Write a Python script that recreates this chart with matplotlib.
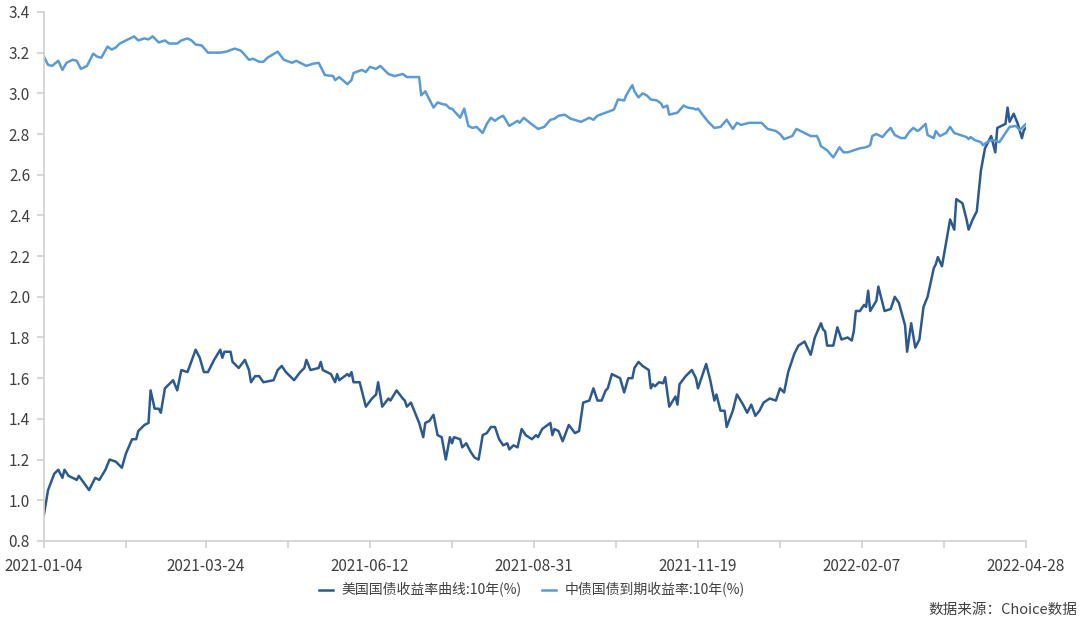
'''
US 10Y treasury yield vs China 10Y government bond yield, 2021-01-04 to 2022-04-28
'''

import numpy as np
import pandas as pd
import matplotlib
matplotlib.use('Agg')
import matplotlib.pyplot as plt
import matplotlib.dates as mdates
from matplotlib.ticker import FormatStrFormatter

plt.rcParams['font.family'] = ['Noto Sans CJK SC', 'DejaVu Sans']

### data, x = days since 2021-01-04
start = pd.Timestamp('2021-01-04')

us_day = [0, 2, 5, 7, 9, 10, 12, 16, 17, 22, 25, 27, 30, 32, 35, 38, 40, 43, 45, 46,
          49, 51, 52, 54, 56, 57, 59, 63, 65, 67, 70, 74, 76, 78, 80, 83, 86, 87, 88, 91,
          92, 94, 95, 98, 100, 101, 103, 105, 107, 112, 114, 116, 118, 122, 125, 127, 128, 130, 134, 135,
          136, 140, 142, 143, 144, 148, 149, 150, 151, 154, 155, 157, 160, 162, 163, 165, 168, 169, 172, 175,
          176, 177, 179, 181, 183, 185, 186, 188, 190, 192, 194, 196, 198, 199, 200, 203, 204, 206, 208, 210,
          212, 214, 216, 218, 220, 222, 224, 226, 227, 229, 231, 233, 235, 238, 240, 241, 243, 247, 248, 249,
          251, 253, 256, 259, 261, 263, 266, 268, 270, 272, 274, 275, 277, 281, 283, 285, 287, 288, 290, 292,
          295, 296, 297, 298, 300, 302, 303, 305, 308, 309, 310, 313, 316, 318, 319, 323, 325, 327, 328, 330,
          332, 333, 336, 338, 341, 343, 345, 347, 349, 351, 354, 357, 359, 361, 363, 366, 368, 371, 374, 376,
          379, 380, 381, 382, 385, 387, 389, 392, 394, 395, 396, 398, 400, 401, 402, 403, 406, 407, 410, 413,
          415, 417, 420, 421, 423, 425, 427, 429, 431, 434, 435, 436, 438, 442, 444, 445, 448, 450, 451, 453,
          455, 457, 459, 462, 463, 464, 465, 468, 469, 470, 471, 473, 475, 477, 478, 479]
us_10y = [0.93, 1.05, 1.13, 1.15, 1.11, 1.15, 1.12, 1.10, 1.12, 1.05, 1.11, 1.10, 1.15, 1.20, 1.19, 1.16, 1.23, 1.30, 1.30, 1.34,
          1.37, 1.38, 1.54, 1.45, 1.45, 1.43, 1.55, 1.59, 1.54, 1.64, 1.63, 1.74, 1.70, 1.63, 1.63, 1.69, 1.74, 1.70, 1.73, 1.73,
          1.68, 1.66, 1.65, 1.69, 1.64, 1.58, 1.61, 1.61, 1.58, 1.59, 1.64, 1.66, 1.63, 1.59, 1.63, 1.65, 1.69, 1.64, 1.65, 1.68,
          1.64, 1.62, 1.58, 1.62, 1.59, 1.62, 1.61, 1.63, 1.58, 1.58, 1.54, 1.46, 1.50, 1.52, 1.58, 1.46, 1.50, 1.49, 1.54, 1.50,
          1.49, 1.46, 1.48, 1.43, 1.38, 1.31, 1.38, 1.39, 1.42, 1.32, 1.31, 1.20, 1.31, 1.28, 1.31, 1.30, 1.26, 1.28, 1.24, 1.21,
          1.20, 1.32, 1.33, 1.36, 1.36, 1.30, 1.27, 1.28, 1.25, 1.27, 1.26, 1.35, 1.32, 1.30, 1.32, 1.31, 1.35, 1.38, 1.32, 1.35,
          1.34, 1.29, 1.37, 1.33, 1.34, 1.48, 1.49, 1.55, 1.49, 1.49, 1.54, 1.55, 1.62, 1.60, 1.53, 1.60, 1.60, 1.65, 1.68, 1.66,
          1.64, 1.55, 1.57, 1.56, 1.58, 1.575, 1.605, 1.46, 1.51, 1.47, 1.57, 1.61, 1.64, 1.60, 1.55, 1.67, 1.59, 1.49, 1.52, 1.44,
          1.44, 1.36, 1.44, 1.52, 1.47, 1.43, 1.47, 1.415, 1.44, 1.48, 1.50, 1.49, 1.55, 1.53, 1.63, 1.72, 1.76, 1.78, 1.715, 1.80,
          1.87, 1.84, 1.83, 1.76, 1.76, 1.85, 1.79, 1.80, 1.785, 1.83, 1.93, 1.93, 1.96, 1.95, 2.03, 1.93, 1.98, 2.05, 1.93, 1.94,
          2.00, 1.97, 1.86, 1.73, 1.87, 1.75, 1.79, 1.95, 2.00, 2.14, 2.16, 2.195, 2.15, 2.38, 2.33, 2.48, 2.46, 2.38, 2.33, 2.38,
          2.42, 2.62, 2.73, 2.79, 2.75, 2.71, 2.83, 2.845, 2.85, 2.93, 2.86, 2.90, 2.85, 2.78, 2.82, 2.83]

cn_day = [0, 2, 4, 7, 9, 11, 14, 16, 18, 21, 24, 26, 28, 31, 33, 35, 37, 41, 44, 46,
          49, 51, 53, 56, 59, 61, 65, 67, 70, 72, 74, 77, 80, 83, 86, 89, 93, 96, 97, 100,
          102, 105, 107, 109, 114, 117, 121, 123, 128, 131, 134, 137, 141, 142, 144, 148, 150, 151, 155, 157,
          159, 162, 164, 168, 171, 175, 177, 179, 183, 184, 186, 188, 190, 192, 195, 196, 198, 199, 203, 205,
          207, 209, 211, 214, 216, 218, 220, 222, 224, 227, 231, 232, 234, 237, 239, 241, 244, 247, 249, 251,
          254, 257, 262, 266, 268, 270, 278, 280, 283, 284, 286, 287, 288, 290, 292, 294, 296, 299, 301, 302,
          304, 305, 309, 312, 314, 317, 318, 319, 322, 324, 327, 330, 333, 336, 338, 340, 344, 345, 350, 353,
          357, 359, 361, 365, 367, 371, 374, 377, 378, 379, 382, 385, 388, 390, 392, 395, 398, 401, 403, 404,
          406, 409, 411, 413, 415, 418, 420, 422, 424, 426, 427, 430, 431, 434, 435, 437, 440, 442, 444, 447,
          450, 451, 452, 454, 457, 458, 460, 462, 463, 466, 467, 469, 471, 474, 476, 477, 479]
cn_10y = [3.18, 3.14, 3.135, 3.16, 3.115, 3.15, 3.165, 3.16, 3.12, 3.135, 3.195, 3.18, 3.175, 3.23, 3.215, 3.225, 3.245, 3.265, 3.28, 3.26,
          3.27, 3.265, 3.28, 3.25, 3.26, 3.245, 3.245, 3.26, 3.27, 3.26, 3.24, 3.235, 3.20, 3.20, 3.20, 3.205, 3.22, 3.21, 3.20, 3.165,
          3.17, 3.155, 3.155, 3.175, 3.205, 3.165, 3.15, 3.16, 3.135, 3.145, 3.15, 3.09, 3.085, 3.065, 3.08, 3.045, 3.065, 3.10, 3.115, 3.105,
          3.13, 3.12, 3.135, 3.095, 3.085, 3.095, 3.08, 3.08, 3.08, 2.99, 3.01, 2.97, 2.93, 2.955, 2.945, 2.945, 2.925, 2.925, 2.88, 2.925,
          2.84, 2.83, 2.835, 2.805, 2.85, 2.88, 2.865, 2.88, 2.89, 2.84, 2.865, 2.855, 2.88, 2.855, 2.84, 2.825, 2.835, 2.87, 2.875, 2.89,
          2.895, 2.875, 2.86, 2.88, 2.87, 2.89, 2.92, 2.97, 2.965, 2.99, 3.025, 3.04, 3.01, 2.98, 3.00, 2.99, 2.97, 2.965, 2.95, 2.93,
          2.94, 2.895, 2.905, 2.94, 2.93, 2.925, 2.92, 2.925, 2.885, 2.86, 2.83, 2.835, 2.87, 2.825, 2.855, 2.845, 2.855, 2.855, 2.855, 2.825,
          2.815, 2.80, 2.775, 2.79, 2.825, 2.805, 2.79, 2.79, 2.77, 2.74, 2.72, 2.685, 2.735, 2.71, 2.71, 2.72, 2.73, 2.735, 2.745, 2.79,
          2.80, 2.785, 2.81, 2.83, 2.795, 2.78, 2.78, 2.81, 2.83, 2.815, 2.82, 2.85, 2.795, 2.78, 2.815, 2.79, 2.805, 2.835, 2.805, 2.795,
          2.785, 2.775, 2.785, 2.77, 2.76, 2.745, 2.76, 2.77, 2.77, 2.76, 2.775, 2.805, 2.835, 2.84, 2.82, 2.83, 2.85]

label_days = [0, 79, 159, 239, 319, 399, 479]
minor_days = [40, 119, 199, 279, 359, 439]

us_label = '美国国债收益率曲线:10年(%)'
cn_label = '中债国债到期收益率:10年(%)'
source_text = '数据来源：Choice数据'

us_dates = start + pd.to_timedelta(us_day, unit='D')
cn_dates = start + pd.to_timedelta(cn_day, unit='D')

### Plot ###
fig = plt.figure(figsize=(10.8, 6.29), dpi=100)
ax = fig.add_axes([0.0407, 0.140, 0.9093, 0.841])

axis_grey = '#d0d0d0'
text_col = '#404040'

ax.plot(us_dates, us_10y, color='#2c5a90', lw=1.8, label=us_label)
ax.plot(cn_dates, cn_10y, color='#5b9bd5', lw=1.8, label=cn_label)

ax.set_ylim(0.8, 3.4)
ax.set_yticks(np.arange(0.8, 3.41, 0.2))
ax.yaxis.set_major_formatter(FormatStrFormatter('%.1f'))

ax.set_xlim(start, start + pd.Timedelta(days=479))
ax.set_xticks(start + pd.to_timedelta(label_days, unit='D'))
ax.set_xticks(start + pd.to_timedelta(minor_days, unit='D'), minor=True)
ax.xaxis.set_major_formatter(mdates.DateFormatter('%Y-%m-%d'))

for s in ['top', 'right']:
    ax.spines[s].set_visible(False)
for s in ['left', 'bottom']:
    ax.spines[s].set_color(axis_grey)
    ax.spines[s].set_linewidth(1.2)

ax.tick_params(axis='both', which='both', color=axis_grey, width=1.2, length=5,
               labelcolor=text_col, labelsize=11)
ax.tick_params(axis='x', which='major', pad=7)
ax.tick_params(axis='y', pad=5)

fig.legend(loc='center', bbox_to_anchor=(532/1080, 1 - 590/629), ncol=2, frameon=False,
           handlelength=1.0, columnspacing=1.5, handletextpad=0.6, fontsize=10,
           labelcolor=text_col)

fig.text(1077/1080, 1 - 610/629, source_text, ha='right', va='center',
         fontsize=10.5, color=text_col)

fig.savefig('out.png', dpi=100)
